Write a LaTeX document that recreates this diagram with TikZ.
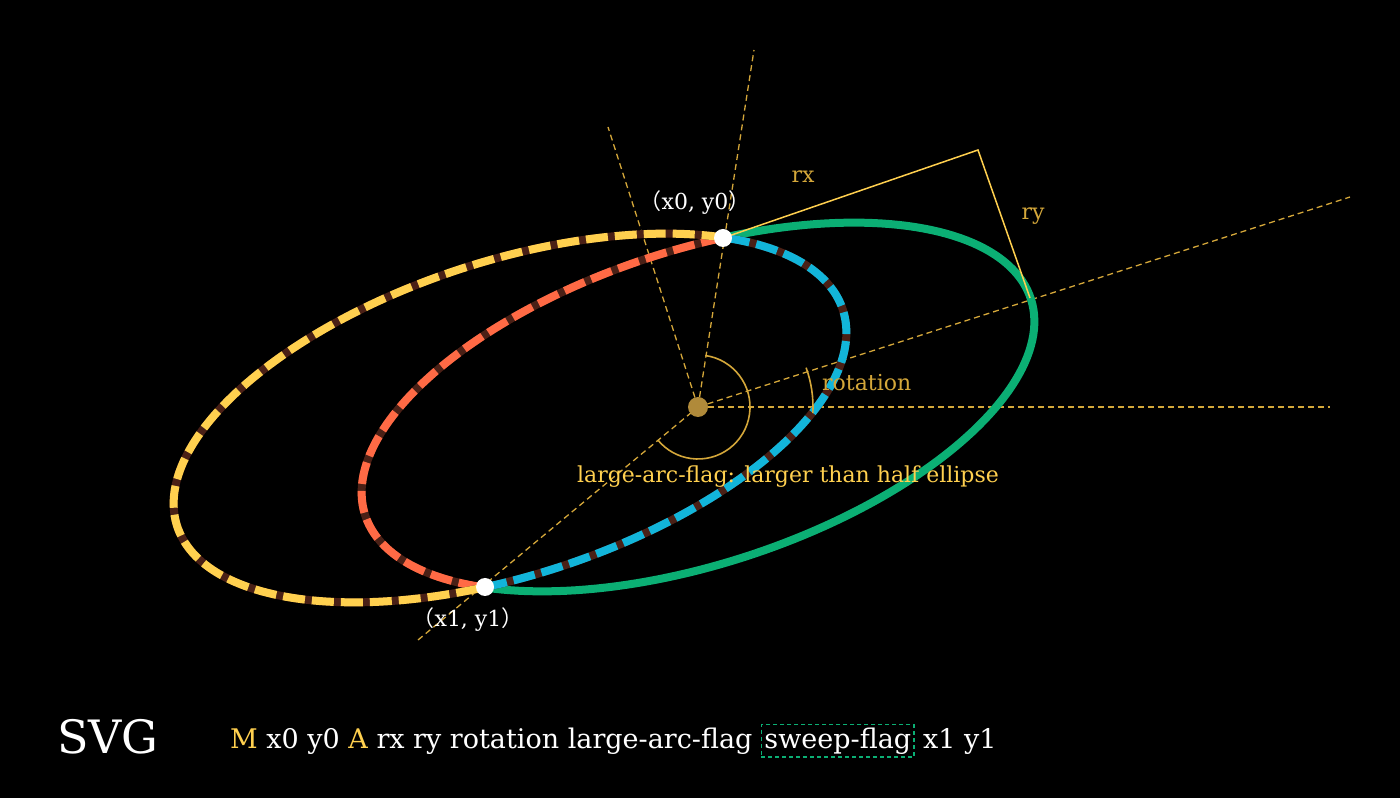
\documentclass[tikz,border=0pt]{standalone}
\usepackage{fontspec}
\setmainfont{DejaVu Serif}
\newfontfamily\cjk{Noto Sans CJK SC}
\definecolor{cy}{HTML}{FFD04F}
\definecolor{cr}{HTML}{FF6A45}
\definecolor{cb}{HTML}{12B5DA}
\definecolor{cg}{HTML}{0BAF74}
\definecolor{gap}{HTML}{4A2016}
\definecolor{gold}{HTML}{D4A73A}
\definecolor{dotc}{HTML}{B08A3A}
\begin{document}
\begin{tikzpicture}[x=1pt,y=1pt,
  guide/.style={gold,dashed,line width=1.3pt,dash pattern=on 6pt off 4pt},
  seg/.style={line width=8pt},
  dsh/.style={line width=8pt,dash pattern=on 22pt off 7pt},
  lbl/.style={font=\fontsize{22}{26}\selectfont,inner sep=0pt}]
\fill[black] (0,0) rectangle (1400,798);
\useasboundingbox (0,0) rectangle (1400,798);
\coordinate (C) at (698,391);
\coordinate (P0) at (723,560);
\coordinate (P1) at (485,211);
\coordinate (gA) at (418,158);
\coordinate (gB) at (1350,601);
\coordinate (gC) at (608,671);
\coordinate (gD) at (754,748);
\coordinate (gE) at (1330,391);
\coordinate (rk) at (978,648);
\coordinate (ry) at (1030,500);
% guides
\draw[guide] (gA) -- (C);
\draw[guide] (C) -- (gB);
\draw[guide] (C) -- (gC);
\draw[guide] (C) -- (gD);
\draw[guide] (C) -- (gE);
% ellipse B (red + green)
\begin{scope}[shift={(698,391)},rotate=18]
\draw[seg,cg] plot[domain=222.3:437.5,samples=120] ({350*cos(\x)},{157*sin(\x)});
\draw[seg,gap] plot[domain=77.5:222.3,samples=120] ({350*cos(\x)},{157*sin(\x)});
\draw[dsh,cr] plot[domain=77.5:222.3,samples=120] ({350*cos(\x)},{157*sin(\x)});
\end{scope}
% ellipse A (yellow + blue)
\begin{scope}[shift={(510,380)},rotate=18]
\draw[seg,gap] plot[domain=42.3:257.5,samples=150] ({350*cos(\x)},{157*sin(\x)});
\draw[dsh,cy] plot[domain=42.3:257.5,samples=150] ({350*cos(\x)},{157*sin(\x)});
\draw[seg,gap] plot[domain=257.5:402.3,samples=120] ({350*cos(\x)},{157*sin(\x)});
\draw[dsh,cb] plot[domain=257.5:402.3,samples=120] ({350*cos(\x)},{157*sin(\x)});
\end{scope}
% angle arcs
\draw[gold,line width=1.6pt] ([shift={(82:52)}]C) arc[start angle=82,end angle=-140,radius=52];
\draw[gold,line width=1.6pt] ([shift={(-3:115)}]C) arc[start angle=-3,end angle=20,radius=115];
% rx ry
\draw[cy,line width=1.5pt] (P0) -- (rk) -- (ry);
% dots
\fill[dotc] (C) circle (10);
\fill[white] (P0) circle (9);
\fill[white] (P1) circle (9);
% labels
\node[lbl,gold] (lrx) at (803,621) {rx};
\node[lbl,gold] (lry) at (1033,582) {ry};
\node[lbl,gold,anchor=west] (lrot) at (822,415) {rotation};
\node[lbl,cy] (llaf) at (788,321) {large-arc-flag: larger than half ellipse};
\node[lbl,white] (l0) at (695,595) {{\cjk （}x0, y0{\cjk ）}};
\node[lbl,white] (l1) at (468,178) {{\cjk （}x1, y1{\cjk ）}};
\node[white,inner sep=0pt,font=\fontsize{46}{52}\selectfont] (svg) at (108,61) {SVG};
\node[white,inner sep=0pt,anchor=base west,font=\fontsize{27}{32}\selectfont] (c1) at (230,50) {\textcolor{cy}{M} x0 y0 \textcolor{cy}{A} rx ry rotation large-arc-flag};
\node[white,draw=cg,dash pattern=on 4pt off 3pt,line width=1.5pt,inner sep=3pt,anchor=base west,font=\fontsize{27}{32}\selectfont,xshift=8pt] (c2) at (c1.base east) {sweep-flag};
\node[white,inner sep=0pt,anchor=base west,font=\fontsize{27}{32}\selectfont,xshift=8pt] (c3) at (c2.base east) {x1 y1};
\end{tikzpicture}
\end{document}
